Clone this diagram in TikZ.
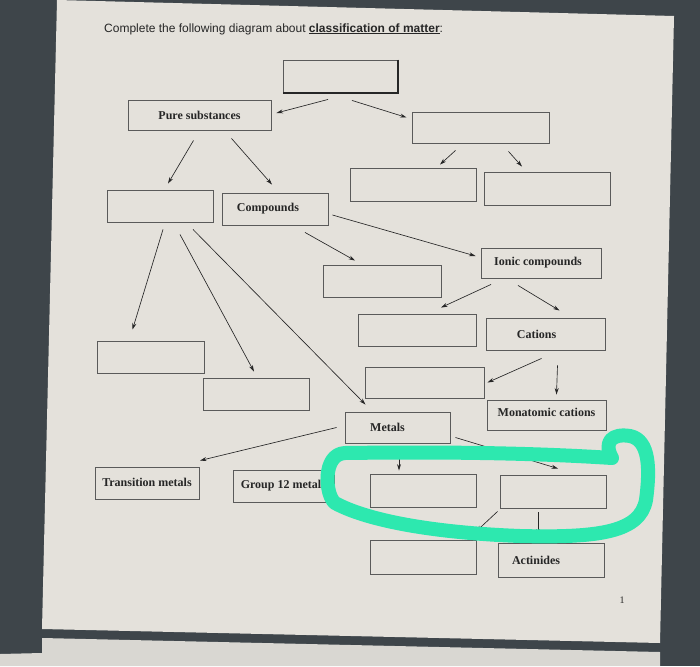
\documentclass[tikz,border=0pt]{standalone}
\usepackage{fontspec}
\setmainfont{Liberation Serif}
\newfontfamily\sansf{Liberation Sans}
\usetikzlibrary{arrows.meta}
\definecolor{paper}{HTML}{E4E1DB}
\definecolor{strip}{HTML}{D9D7D2}
\definecolor{desk}{HTML}{3E454A}
\definecolor{marker}{RGB}{45,232,175}
\definecolor{frame}{HTML}{5A5A5A}
\definecolor{ink}{HTML}{262626}

\begin{document}
\begin{tikzpicture}[x=1pt,y=-1pt,
  box/.style={draw=frame, line width=0.9pt, inner sep=0pt},
  lbl/.style={text=ink, font=\bfseries\fontsize{12}{14}\selectfont, inner sep=0pt},
  arr/.style={draw=ink, line width=0.65pt, -{Stealth[length=6.5pt,width=4pt]}},
  hl/.style={draw=marker, line width=14pt, line cap=round, line join=round}]
\useasboundingbox (0,0) rectangle (700,666);
% photo background
\fill[desk] (0,0) rectangle (700,666);
\fill[paper] (57,0) -- (674,16) -- (660,643) -- (42,629) -- cycle;
\fill[strip] (0,654) -- (42,653) -- (42,638) -- (660,652) -- (660,666) -- (0,666) -- cycle;
\node[anchor=west, inner sep=0pt, text=ink, font=\sansf\fontsize{12}{14}\selectfont] (title) at (104,29)
  {Complete the following diagram about \underline{\bfseries classification of matter}:};
\node[text=ink, font=\fontsize{10}{11}\selectfont] (pagenum) at (622,600) {1};

% boxes
\node[box, minimum width=114, minimum height=32] (matter) at (340,76) {};
\draw[draw=ink, line width=2pt] ([xshift=1]matter.north east) -- ([xshift=1,yshift=-1]matter.south east) -- ([yshift=-1]matter.south west);
\node[box, minimum width=143, minimum height=30, label={[lbl]center:Pure substances}] (pure) at (199.5,115) {};
\node[box, minimum width=137, minimum height=31] (mixtures) at (480.5,127.5) {};
\node[box, minimum width=106, minimum height=32] (elements) at (160,206) {};
\node[box, minimum width=106, minimum height=32, label={[lbl,xshift=-7]center:Compounds}] (comp) at (275,209) {};
\node[box, minimum width=126, minimum height=33] (homog) at (413,184.5) {};
\node[box, minimum width=126, minimum height=33] (heterog) at (547,188.5) {};
\node[box, minimum width=118, minimum height=32] (molecular) at (382,281) {};
\node[box, minimum width=120, minimum height=30, label={[lbl,xshift=-3]center:Ionic compounds}] (ionic) at (541,263) {};
\node[box, minimum width=107, minimum height=32] (nonmetals) at (150.5,357) {};
\node[box, minimum width=106, minimum height=32] (metalloids) at (256,394) {};
\node[box, minimum width=105, minimum height=31, label={[lbl,xshift=-10]center:Metals}] (metals) at (397.5,427.5) {};
\node[box, minimum width=118, minimum height=32] (anions) at (417,330) {};
\node[box, minimum width=119, minimum height=32, label={[lbl,xshift=-9]center:Cations}] (cat) at (545.5,334) {};
\node[box, minimum width=119, minimum height=31] (polyat) at (424.5,382.5) {};
\node[box, minimum width=119, minimum height=30, label={[lbl,yshift=3]center:Monatomic cations}] (mono) at (546.5,415) {};
\node[box, minimum width=104, minimum height=32, label={[lbl,yshift=1]center:Transition metals}] (trans) at (147,483) {};
\node[box, minimum width=101, minimum height=32] (grp) at (283.5,486) {};
\node[lbl, anchor=west] (grplbl) at ([xshift=8]grp.west) {Group 12 metal};
\node[box, minimum width=106, minimum height=33] (maingr) at (423,490.5) {};
\node[box, minimum width=106, minimum height=33] (innertr) at (553,491.5) {};
\node[box, minimum width=106, minimum height=34] (lanth) at (423,557) {};
\node[box, minimum width=106, minimum height=34, label={[lbl,xshift=-15]center:Actinides}] (act) at (551,560) {};

% arrows
\draw[arr] ([xshift=-12,yshift=-7]matter.south) -- ([xshift=5,yshift=2]pure.east);
\draw[arr] ([xshift=12,yshift=-8]matter.south) -- ([xshift=-5,yshift=10]mixtures.west);
\draw[arr] ([xshift=-6,yshift=-10]pure.south) -- ([xshift=8,yshift=6]elements.north);
\draw[arr] ([xshift=32,yshift=-8]pure.south) -- ([xshift=-3,yshift=8]comp.north);
\draw[arr] ([xshift=-25,yshift=-7]mixtures.south) -- ([xshift=27,yshift=3]homog.north);
\draw[arr] ([xshift=28,yshift=-8]mixtures.south) -- ([xshift=-25,yshift=5]heterog.north);
\draw[arr] ([xshift=30,yshift=-7]comp.south) -- ([xshift=-27,yshift=4]molecular.north);
\draw[arr] ([xshift=4,yshift=-6]comp.east) -- ([xshift=-5,yshift=7]ionic.west);
\draw[arr] ([xshift=3,yshift=-7]elements.south) -- ([xshift=-18,yshift=11]nonmetals.north);
\draw[arr] ([xshift=20,yshift=-12]elements.south) -- ([xshift=-2,yshift=6]metalloids.north);
\draw[arr] ([xshift=33,yshift=-7]elements.south) -- ([xshift=-32,yshift=7]metals.north);
\draw[arr] ([xshift=-50,yshift=-6]ionic.south) -- ([xshift=24,yshift=6]anions.north);
\draw[arr] ([xshift=-23,yshift=-7]ionic.south) -- ([xshift=14,yshift=7]cat.north);
\draw[arr] ([xshift=-4,yshift=-8]cat.south) -- ([xshift=3]polyat.east);
\draw[arr] ([xshift=12,yshift=-15]cat.south) -- ([xshift=10,yshift=5]mono.north);
\draw[arr] ([xshift=-8]metals.west) -- ([xshift=53,yshift=6]trans.north);
\draw[arr] ([xshift=1.5,yshift=-9]metals.south) -- ([xshift=-24,yshift=3]maingr.north);
\draw[arr] ([xshift=5,yshift=-10]metals.east) -- ([xshift=5,yshift=6]innertr.north);
\draw[arr] ([xshift=-2,yshift=-3]innertr.south west) -- ([xshift=53,yshift=8]lanth.north);
\draw[arr] ([xshift=-15,yshift=-4]innertr.south) -- ([xshift=-13,yshift=7]act.north);

% highlighter loop
\draw[hl] (612,458) .. controls (520,452) and (420,452) .. (345,453)
  .. controls (322,454) and (325,495) .. (335,503)
  .. controls (370,522) and (440,533) .. (520,536)
  .. controls (600,538) and (640,532) .. (646,500)
  .. controls (650,470) and (650,440) .. (630,436)
  .. controls (612,433) and (603,442) .. (612,458);
\end{tikzpicture}
\end{document}
